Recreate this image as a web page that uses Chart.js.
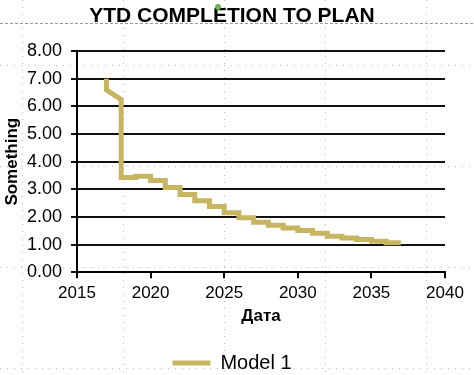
<!DOCTYPE html>
<html>
<head>
<meta charset="utf-8">
<script src="https://cdn.jsdelivr.net/npm/chart.js@4"></script>
<style>
  html, body { margin: 0; padding: 0; background: #fff; }
  #wrap { width: 474px; height: 375px; }
</style>
</head>
<body>
<div id="wrap"><canvas id="chart"></canvas></div>
<script>
let khaki = '#c8b560';
let ink = '#000';

// first part of the curve: the big drop in 2017-2018
let headYears = [2017, 2017, 2018, 2018];
let headValues = [7.00, 6.60, 6.25, 3.40];

// yearly steps after the drop (value held through each year)
let stepYears = [2018, 2019, 2020, 2021, 2022, 2023, 2024, 2025, 2026, 2027,
                 2028, 2029, 2030, 2031, 2032, 2033, 2034, 2035, 2036];
let stepValues = [3.43, 3.47, 3.32, 3.07, 2.81, 2.59, 2.38, 2.15, 1.97, 1.81,
                  1.70, 1.60, 1.51, 1.41, 1.30, 1.24, 1.18, 1.12, 1.07];

let xTicks = [2015, 2020, 2025, 2030, 2035, 2040];
let yTicks = [0, 1, 2, 3, 4, 5, 6, 7, 8];

let points = headYears.map((yr, i) => ({x: yr, y: headValues[i]}));
stepYears.forEach((yr, i) => {
  points.push({x: yr, y: stepValues[i]});
  points.push({x: yr + 1, y: stepValues[i]});
});

// faint dotted editor grid + selection marks seen behind the chart
let backdrop = {
  id: 'backdrop',
  beforeDraw(chart) {
    let ctx = chart.ctx;
    ctx.save();
    ctx.fillStyle = '#fff';
    ctx.fillRect(0, 0, chart.width, chart.height);
    ctx.strokeStyle = '#bbb';
    ctx.lineWidth = 1;
    ctx.setLineDash([1, 6]);
    [22, 123, 224, 325, 426].forEach(x => {
      ctx.beginPath(); ctx.moveTo(x + 0.5, 0); ctx.lineTo(x + 0.5, chart.height); ctx.stroke();
    });
    [65, 166, 267, 368].forEach(y => {
      ctx.beginPath(); ctx.moveTo(0, y + 0.5); ctx.lineTo(chart.width, y + 0.5); ctx.stroke();
    });
    ctx.strokeStyle = '#999';
    ctx.setLineDash([3, 2]);
    ctx.beginPath(); ctx.moveTo(0, 23.5); ctx.lineTo(chart.width, 23.5); ctx.stroke();
    ctx.restore();
  },
  afterDraw(chart) {
    let ctx = chart.ctx;
    ctx.save();
    ctx.fillStyle = '#6ab04c';
    ctx.beginPath(); ctx.arc(218, 7, 3, 0, Math.PI * 2); ctx.fill();
    ctx.restore();
  }
};

const myChart = new Chart('chart', {
  type: 'line',
  data: {
    datasets: [{
      label: 'Model 1',
      data: points,
      borderColor: khaki,
      backgroundColor: khaki,
      borderWidth: 5,
      pointRadius: 0,
      tension: 0,
      borderJoinStyle: 'miter'
    }]
  },
  options: {
    animation: false,
    responsive: true,
    maintainAspectRatio: false,
    layout: { padding: { right: 10, bottom: -8 } },
    scales: {
      x: {
        type: 'linear',
        min: 2015,
        max: 2040,
        afterBuildTicks: axis => { axis.ticks = xTicks.map(v => ({value: v})); },
        ticks: {
          color: ink,
          font: { family: 'Liberation Sans, Arial', size: 17 },
          padding: 5,
          maxRotation: 0,
          callback: v => String(v)
        },
        grid: { drawOnChartArea: false, color: ink, lineWidth: 2, tickLength: 6 },
        border: { color: ink, width: 2 },
        title: {
          display: true,
          text: 'Дата',
          color: ink,
          font: { family: 'Liberation Sans, Arial', size: 17, weight: 'bold' },
          padding: { top: -2, bottom: 20 }
        }
      },
      y: {
        min: 0,
        max: 8,
        afterBuildTicks: axis => { axis.ticks = yTicks.map(v => ({value: v})); },
        afterFit: axis => { axis.width = 77; },
        ticks: {
          color: ink,
          font: { family: 'Liberation Sans, Arial', size: 18 },
          padding: 9,
          callback: v => v.toFixed(2)
        },
        grid: { color: '#111', lineWidth: 2, tickLength: 6 },
        border: { color: ink, width: 2 },
        title: {
          display: true,
          text: 'Something',
          color: ink,
          font: { family: 'Liberation Sans, Arial', size: 17, weight: 'bold' },
          padding: { top: 2, bottom: 6 }
        }
      },
      // empty right-hand spacer so the plot ends where the original does
      spacer: {
        type: 'linear',
        position: 'right',
        display: true,
        ticks: { display: false },
        grid: { display: false },
        border: { display: false },
        afterFit: axis => { axis.width = 19; }
      }
    },
    plugins: {
      title: {
        display: true,
        text: 'YTD COMPLETION TO PLAN',
        color: ink,
        font: { family: 'Liberation Sans, Arial', size: 21, weight: 'bold' },
        padding: { top: 4, bottom: 22 }
      },
      legend: {
        display: true,
        position: 'bottom',
        labels: {
          color: ink,
          font: { family: 'Liberation Sans, Arial', size: 20 },
          usePointStyle: true,
          pointStyle: 'line',
          pointStyleWidth: 38,
          padding: 6
        }
      },
      tooltip: { enabled: false }
    }
  },
  plugins: [backdrop]
});
</script>
</body>
</html>
